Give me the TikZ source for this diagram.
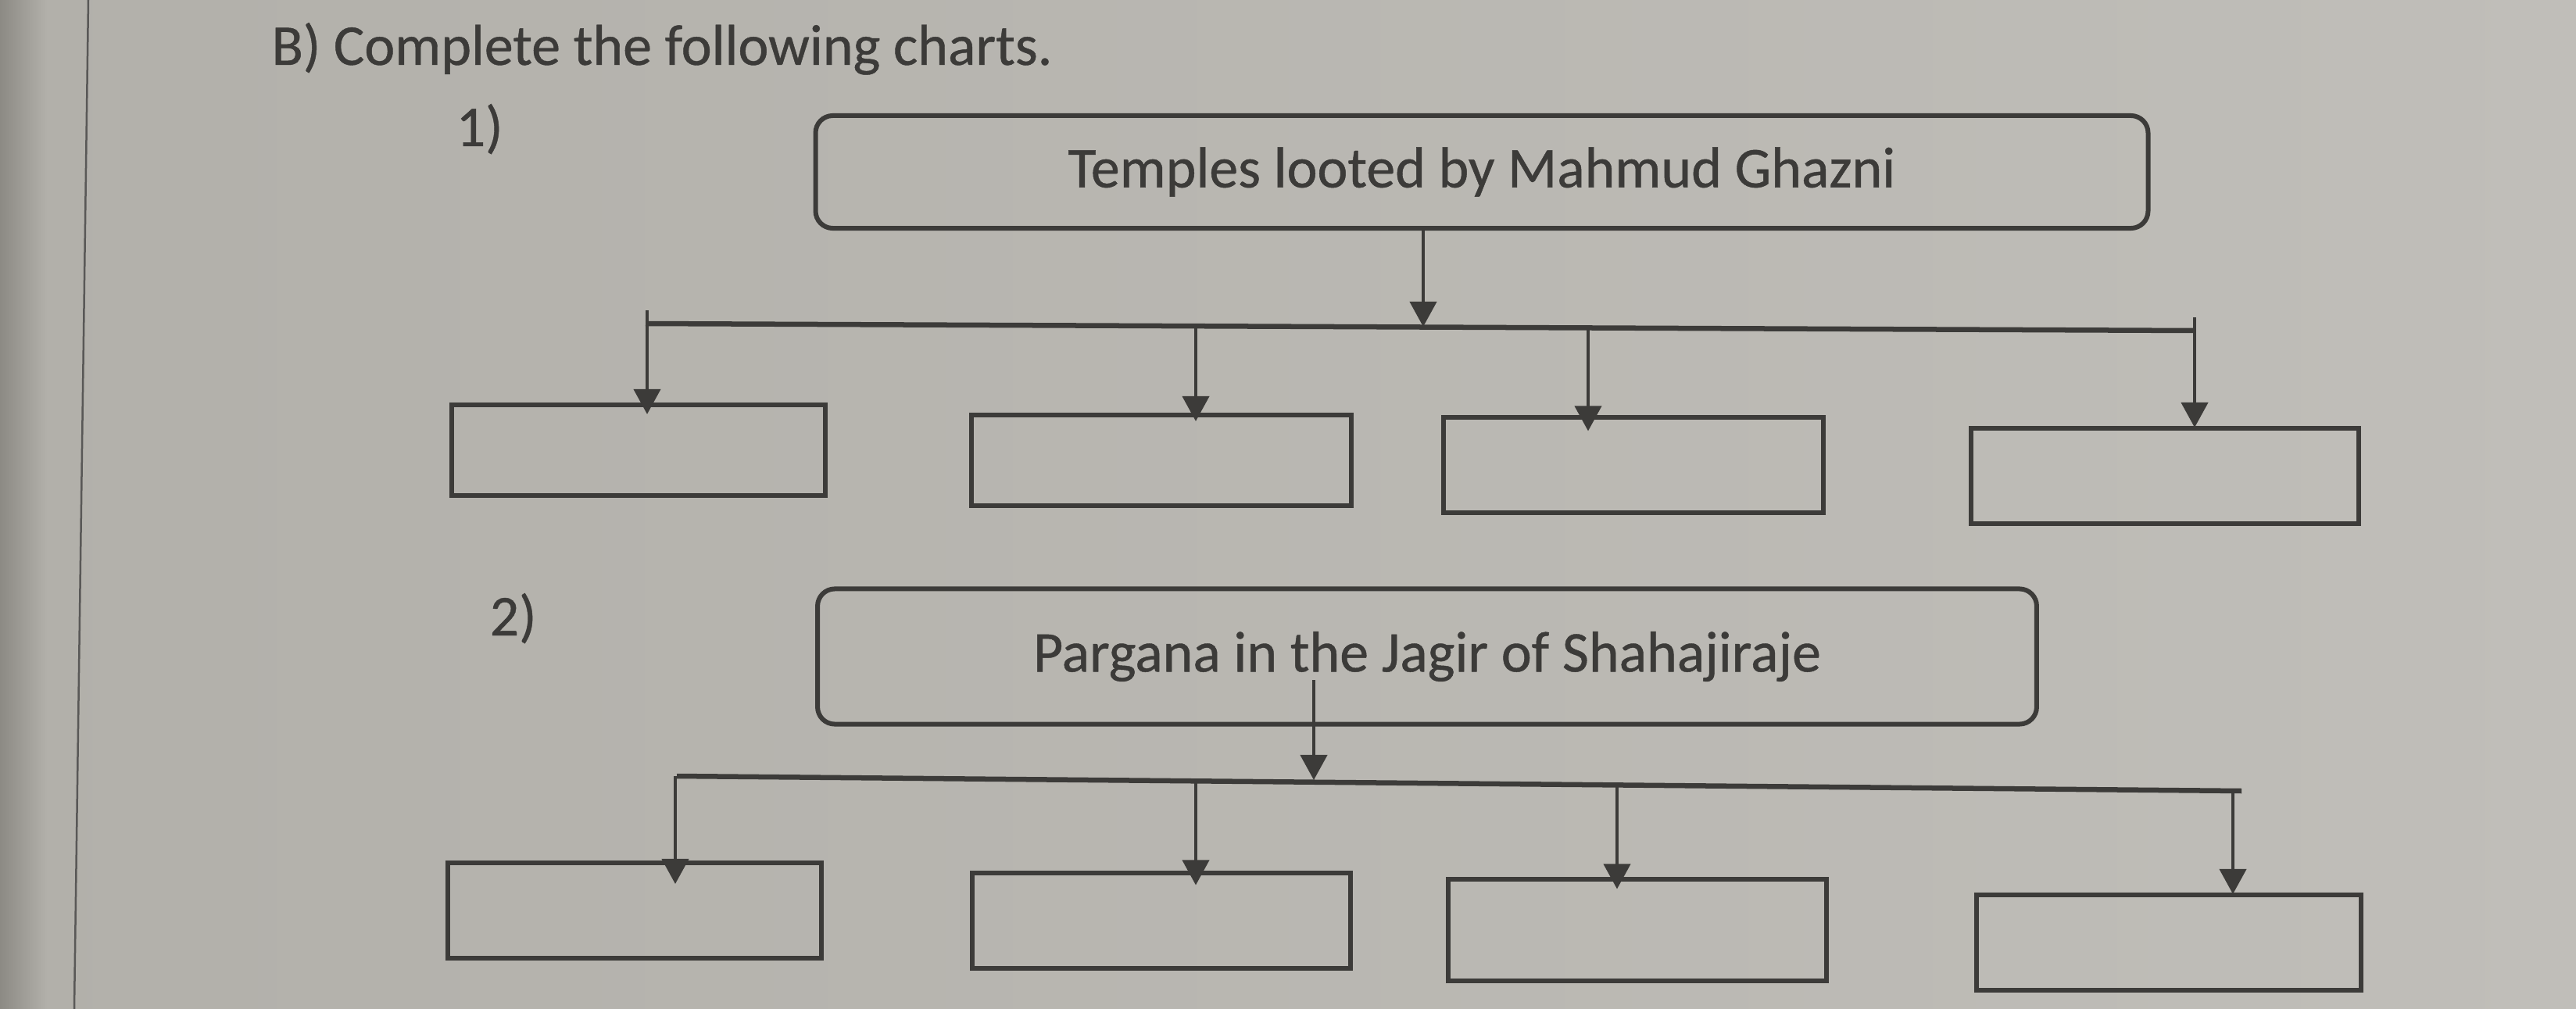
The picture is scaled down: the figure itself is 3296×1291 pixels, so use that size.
\documentclass[tikz,border=0pt]{standalone}
\usepackage{fontspec}
\setmainfont{Carlito}
\newfontfamily\chartfont{Carlito}[FakeBold=0.6]
\usetikzlibrary{arrows.meta,calc}
\definecolor{paperL}{RGB}{178,176,170}
\definecolor{paperM}{RGB}{202,200,195}
\definecolor{paperR}{RGB}{192,190,185}
\definecolor{ink}{RGB}{60,59,57}
\definecolor{edge}{RGB}{140,138,132}
\tikzset{
  txt/.style={text=ink, font=\chartfont\fontsize{21}{25}\selectfont, inner sep=0pt},
  topbox/.style={draw=ink, line width=0.06cm, rounded corners=0.22cm, txt, inner sep=0pt},
  cell/.style={draw=ink, line width=0.06cm, inner sep=0pt},
  arr/.style={draw=ink, line width=0.04cm, -{Triangle[length=0.32cm,width=0.34cm]}},
  hline/.style={draw=ink, line width=0.065cm},
}
\begin{document}
\begin{tikzpicture}[x=0.01cm,y=-0.01cm]
\useasboundingbox (0,0) rectangle (3296,1291);
\shade[left color=paperL, middle color=paperM, right color=paperR] (0,0) rectangle (3296,1291);
\shade[left color=edge, right color=paperL] (0,0) rectangle (60,1291);
\draw[ink!85, line width=0.025cm] (113,0) -- (95,1291);

% headings
\node[txt, anchor=base west] (title) at (347,83) {B) Complete the following charts.};
\node[txt, anchor=base west] (n1) at (583,187) {1)};
\node[txt, anchor=base west] (n2) at (626,813) {2)};

% chart 1
\node[topbox, minimum width=17.04cm, minimum height=1.44cm] (top1) at (1896,220) {Temples looted by Mahmud Ghazni};
\node[cell, minimum width=4.78cm, minimum height=1.16cm] (b11) at (817,576) {};
\node[cell, minimum width=4.85cm, minimum height=1.16cm] (b12) at (1486,589) {};
\node[cell, minimum width=4.85cm, minimum height=1.21cm] (b13) at (2090,595) {};
\node[cell, minimum width=4.96cm, minimum height=1.22cm] (b14) at (2770,609) {};

\coordinate (a1) at (1821,418);
\draw[arr] (top1.south -| a1) -- (a1);
\coordinate (h1l) at (826,414);
\coordinate (h1r) at (2808,423);
\draw[hline] (h1l) -- (h1r);
\coordinate (d11) at (828,397);
\coordinate (d12) at (1530,417);
\coordinate (d13) at (2032,419);
\coordinate (d14) at (2808,406);
\draw[arr] (d11) -- ($(d11 |- b11.north)+(0,15)$);
\draw[arr] (d12) -- ($(d12 |- b12.north)+(0,11)$);
\draw[arr] (d13) -- ($(d13 |- b13.north)+(0,20)$);
\draw[arr] (d14) -- ($(d14 |- b14.north)+(0,2)$);

% chart 2
\node[topbox, minimum width=15.59cm, minimum height=1.73cm] (top2) at (1826,840) {Pargana in the Jagir of Shahajiraje};
\node[cell, minimum width=4.78cm, minimum height=1.22cm] (b21) at (812,1165) {};
\node[cell, minimum width=4.83cm, minimum height=1.21cm] (b22) at (1486,1178) {};
\node[cell, minimum width=4.84cm, minimum height=1.29cm] (b23) at (2095,1190) {};
\node[cell, minimum width=4.91cm, minimum height=1.22cm] (b24) at (2775,1206) {};

\coordinate (a2s) at (1681,870);
\coordinate (a2e) at (1681,998);
\draw[arr] (a2s) -- (a2e);
\coordinate (h2l) at (866,993);
\coordinate (h2r) at (2868,1012);
\draw[hline] (h2l) -- (h2r);
\coordinate (d21) at (864,993);
\coordinate (d22) at (1530,999);
\coordinate (d23) at (2069,1004);
\coordinate (d24) at (2857,1011);
\draw[arr] (d21) -- ($(d21 |- b21.north)+(0,30)$);
\draw[arr] (d22) -- ($(d22 |- b22.north)+(0,18)$);
\draw[arr] (d23) -- ($(d23 |- b23.north)+(0,15)$);
\draw[arr] (d24) -- ($(d24 |- b24.north)+(0,2)$);
\end{tikzpicture}
\end{document}
